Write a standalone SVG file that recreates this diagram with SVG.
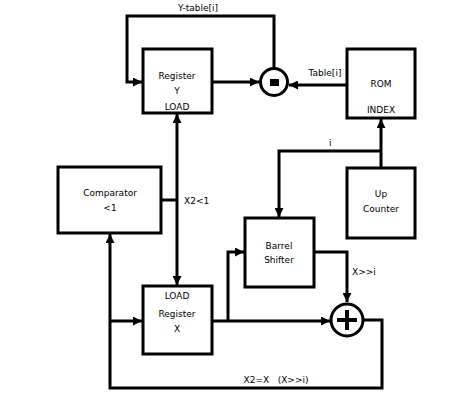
<svg xmlns="http://www.w3.org/2000/svg" width="474" height="402" viewBox="0 0 474 402">
<style>
.box{fill:#fff;stroke:#000;stroke-width:3}
.ln{fill:none;stroke:#000;stroke-width:3}
.ar{fill:none;stroke:#000;stroke-width:3;marker-end:url(#ah)}
text{font-family:"DejaVu Sans",sans-serif;font-size:9px;fill:#000;text-anchor:middle}
.l{text-anchor:start}
</style>
<defs>
<marker id="ah" viewBox="0 0 10 10" refX="10" refY="5" markerWidth="3" markerHeight="3" orient="auto" markerUnits="strokeWidth">
<path d="M0,0 L10,5 L0,10 z" fill="#000"/>
</marker>
</defs>
<rect width="474" height="402" fill="#fff"/>
<g id="connectors">
<polyline class="ar" points="274,68 274,16 127,16 127,82 142,82"/>
<line class="ar" x1="212" y1="82" x2="259" y2="82"/>
<line class="ar" x1="347" y1="85" x2="289" y2="85"/>
<line class="ar" x1="381" y1="168" x2="381" y2="119"/>
<polyline class="ar" points="381,151 279,151 279,217"/>
<line class="ar" x1="177" y1="150" x2="177" y2="114"/>
<line class="ar" x1="177" y1="150" x2="177" y2="285"/>
<line class="ln" x1="161" y1="200" x2="177" y2="200"/>
<polyline class="ar" points="314,252 347,252 347,302"/>
<line class="ar" x1="212" y1="321" x2="330" y2="321"/>
<polyline class="ar" points="228,321 228,252 244,252"/>
<polyline class="ln" points="363,320 382,320 382,388 110,388 110,321"/>
<line class="ar" x1="110" y1="321" x2="142" y2="321"/>
<line class="ar" x1="110" y1="321" x2="110" y2="234"/>
<text x="198" y="11">Y-table[i]</text>
<text x="325" y="76">Table[i]</text>
<text class="l" x="329" y="146">i</text>
<text class="l" x="184" y="204">X2&lt;1</text>
<text class="l" x="352" y="275">X&gt;&gt;i</text>
<text x="276" y="383">X2=X &#160; (X&gt;&gt;i)</text>
</g>
<g id="regY">
<rect class="box" x="143" y="49" width="69" height="64"/>
<text x="177" y="79">Register</text>
<text x="177" y="94">Y</text>
<text x="177" y="110">LOAD</text>
</g>
<g id="minus">
<circle cx="274" cy="82" r="13.5" fill="#fff" stroke="#000" stroke-width="3"/>
<rect x="270" y="79" width="9" height="7" fill="#000"/>
</g>
<g id="rom">
<rect class="box" x="347" y="49" width="68" height="69"/>
<text x="381" y="87">ROM</text>
<text x="381" y="113">INDEX</text>
</g>
<g id="counter">
<rect class="box" x="347" y="168" width="68" height="70"/>
<text x="381" y="197">Up</text>
<text x="381" y="212">Counter</text>
</g>
<g id="comparator">
<rect class="box" x="58" y="167" width="103" height="66"/>
<text x="110" y="196">Comparator</text>
<text x="110" y="211">&lt;1</text>
</g>
<g id="barrel">
<rect class="box" x="245" y="218" width="69" height="69"/>
<text x="279" y="249">Barrel</text>
<text x="279" y="263">Shifter</text>
</g>
<g id="regX">
<rect class="box" x="143" y="286" width="69" height="68"/>
<text x="177" y="299">LOAD</text>
<text x="177" y="317">Register</text>
<text x="177" y="332">X</text>
</g>
<g id="plus">
<circle cx="347" cy="320" r="16" fill="#fff" stroke="#000" stroke-width="3"/>
<line x1="337" y1="320" x2="357" y2="320" stroke="#000" stroke-width="4"/>
<line x1="347" y1="310" x2="347" y2="330" stroke="#000" stroke-width="4"/>
</g>
</svg>
